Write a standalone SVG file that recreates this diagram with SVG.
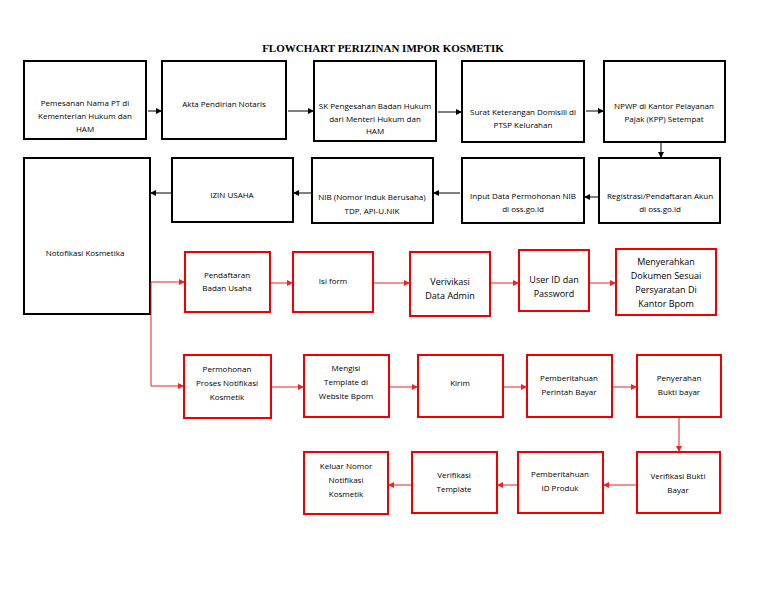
<svg xmlns="http://www.w3.org/2000/svg" width="768" height="594" viewBox="0 0 768 594">
<style>
.b{fill:#fff;stroke:#000;stroke-width:2}
.r{fill:#fff;stroke:#e00;stroke-width:2}
text{font-family:"Open Sans","DejaVu Sans",sans-serif;font-size:8px;text-anchor:middle;fill:#000}
.t{font-family:"Liberation Serif",serif;font-weight:bold;font-size:11px}
.k{stroke:#000;stroke-width:1;fill:none}
.rl{stroke:#e22;stroke-width:1;fill:none}
</style>
<defs>
<marker id="ak" markerWidth="6" markerHeight="6" refX="5" refY="3" orient="auto"><path d="M0,0L6,3L0,6z" fill="#000"/></marker>
<marker id="ar" markerWidth="6" markerHeight="6" refX="5" refY="3" orient="auto"><path d="M0,0L6,3L0,6z" fill="#e22"/></marker>
</defs>
<rect width="768" height="594" fill="#fff"/>
<text class="t" x="383" y="52">FLOWCHART  PERIZINAN IMPOR KOSMETIK</text>
<g id="n1"><rect class="b" x="24" y="61" width="122" height="78"/><text x="85" y="106">Pemesanan Nama PT di</text><text x="85" y="119">Kementerian Hukum dan</text><text x="85" y="132">HAM</text></g>
<g id="n2"><rect class="b" x="162" y="61" width="124" height="78"/><text x="224" y="107">Akta Pendirian Notaris</text></g>
<g id="n3"><rect class="b" x="314" y="61" width="122" height="80"/><text x="375" y="109">SK Pengesahan Badan Hukum</text><text x="375" y="122">dari Menteri Hukum dan</text><text x="375" y="134">HAM</text></g>
<g id="n4"><rect class="b" x="462" y="61" width="122" height="81"/><text x="523" y="115">Surat Keterangan Domisili di</text><text x="523" y="128">PTSP Kelurahan</text></g>
<g id="n5"><rect class="b" x="604" y="61" width="121" height="81"/><text x="664" y="109">NPWP di Kantor Pelayanan</text><text x="664" y="122">Pajak (KPP) Setempat</text></g>
<g id="n6"><rect class="b" x="599" y="158" width="121" height="65"/><text x="660" y="199">Registrasi/Pendaftaran Akun</text><text x="660" y="212">di oss.go.id</text></g>
<g id="n7"><rect class="b" x="462" y="158" width="122" height="65"/><text x="523" y="199">Input Data Permohonan NIB</text><text x="523" y="212">di oss.go.id</text></g>
<g id="n8"><rect class="b" x="312" y="158" width="121" height="65"/><text x="372" y="200">NIB (Nomor Induk Berusaha)</text><text x="372" y="214">TDP, API-U.NIK</text></g>
<g id="n9"><rect class="b" x="172" y="158" width="121" height="64"/><text x="232" y="198">IZIN USAHA</text></g>
<g id="n10"><rect class="b" x="24" y="158" width="126" height="156"/><text x="85" y="256">Notofikasi Kosmetika</text></g>
<g id="r1"><rect class="r" x="185" y="252" width="85" height="60"/><text x="227" y="278">Pendaftaran</text><text x="227" y="291">Badan Usaha</text></g>
<g id="r2"><rect class="r" x="293" y="252" width="80" height="60"/><text x="333" y="284">Isi form</text></g>
<g id="r3"><rect class="r" x="410" y="252" width="80" height="64"/><text x="450" y="285" style="font-size:9px">Verivikasi</text><text x="450" y="299" style="font-size:9px">Data Admin</text></g>
<g id="r4"><rect class="r" x="519" y="250" width="70" height="61"/><text x="554" y="283" style="font-size:9px">User ID dan</text><text x="554" y="297" style="font-size:9px">Password</text></g>
<g id="r5"><rect class="r" x="616" y="249" width="100" height="66"/><text x="666" y="265" style="font-size:9px">Menyerahkan</text><text x="666" y="279" style="font-size:9px">Dokumen Sesuai</text><text x="666" y="293" style="font-size:9px">Persyaratan Di</text><text x="666" y="307" style="font-size:9px">Kantor Bpom</text></g>
<g id="r6"><rect class="r" x="184" y="355" width="87" height="63"/><text x="227" y="372">Permohonan</text><text x="227" y="386">Proses Notifikasi</text><text x="227" y="400">Kosmetik</text></g>
<g id="r7"><rect class="r" x="304" y="355" width="85" height="62"/><text x="346" y="371">Mengisi</text><text x="346" y="385">Template  di</text><text x="346" y="399">Website Bpom</text></g>
<g id="r8"><rect class="r" x="418" y="355" width="85" height="62"/><text x="460" y="386">Kirim</text></g>
<g id="r9"><rect class="r" x="527" y="355" width="85" height="62"/><text x="569" y="381">Pemberitahuan</text><text x="569" y="395">Perintah Bayar</text></g>
<g id="r10"><rect class="r" x="637" y="355" width="84" height="62"/><text x="679" y="381">Penyerahan</text><text x="679" y="395">Bukti bayar</text></g>
<g id="r11"><rect class="r" x="637" y="452" width="83" height="61"/><text x="678" y="479">Verifikasi Bukti</text><text x="678" y="493">Bayar</text></g>
<g id="r12"><rect class="r" x="518" y="452" width="85" height="61"/><text x="560" y="477">Pemberitahuan</text><text x="560" y="491">ID Produk</text></g>
<g id="r13"><rect class="r" x="412" y="452" width="85" height="61"/><text x="454" y="478">Verifikasi</text><text x="454" y="492">Template</text></g>
<g id="r14"><rect class="r" x="304" y="452" width="84" height="62"/><text x="346" y="469">Keluar Nomor</text><text x="346" y="483">Notifikasi</text><text x="346" y="497">Kosmetik</text></g>
<g id="connectors">
<path class="k" marker-end="url(#ak)" d="M148,111H161"/>
<path class="k" marker-end="url(#ak)" d="M288,111H313"/>
<path class="k" marker-end="url(#ak)" d="M438,112H461"/>
<path class="k" marker-end="url(#ak)" d="M586,111H603"/>
<path class="k" marker-end="url(#ak)" d="M661,143V157"/>
<path class="k" marker-end="url(#ak)" d="M598,197H585"/>
<path class="k" marker-end="url(#ak)" d="M460,193H434"/>
<path class="k" marker-end="url(#ak)" d="M311,193H294"/>
<path class="k" marker-end="url(#ak)" d="M171,193H151"/>
<path class="rl" marker-end="url(#ar)" d="M151,282H184"/>
<path class="rl" marker-end="url(#ar)" d="M151,282V386H183"/>
<path class="rl" marker-end="url(#ar)" d="M271,283H292"/>
<path class="rl" marker-end="url(#ar)" d="M374,283H409"/>
<path class="rl" marker-end="url(#ar)" d="M491,283H518"/>
<path class="rl" marker-end="url(#ar)" d="M590,283H615"/>
<path class="rl" marker-end="url(#ar)" d="M272,387H303"/>
<path class="rl" marker-end="url(#ar)" d="M390,387H417"/>
<path class="rl" marker-end="url(#ar)" d="M504,387H526"/>
<path class="rl" marker-end="url(#ar)" d="M613,387H636"/>
<path class="rl" marker-end="url(#ar)" d="M679,418V451"/>
<path class="rl" marker-end="url(#ar)" d="M636,485H604"/>
<path class="rl" marker-end="url(#ar)" d="M517,485H498"/>
<path class="rl" marker-end="url(#ar)" d="M411,485H389"/>
</g>
</svg>
